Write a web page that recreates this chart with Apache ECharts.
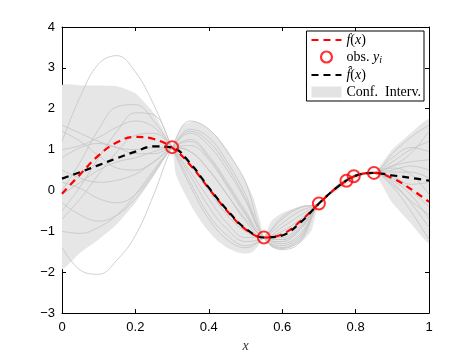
<!DOCTYPE html>
<html><head><meta charset="utf-8">
<script src="https://cdn.jsdelivr.net/npm/echarts@6/dist/echarts.min.js"></script>
<style>html,body{margin:0;padding:0;background:#fff}#c{width:474px;height:358px}</style>
</head><body><div id="c"></div>
<script>
// ---- data ----
const xGrid = [0,0.05,0.1,0.15,0.2,0.25,0.3,0.35,0.4,0.45,0.5,0.55,0.6,0.65,0.7,0.75,0.8,0.85,0.9,0.95,1];
const fTrue = [-0.08,0.40,0.86,1.18,1.31,1.26,1.05,0.62,0.05,-0.50,-0.95,-1.15,-1.07,-0.75,-0.32,0.08,0.36,0.43,0.30,0.04,-0.28];
const fMean = [0.29,0.45,0.62,0.79,0.95,1.08,1.05,0.66,0.07,-0.48,-0.93,-1.15,-1.10,-0.78,-0.32,0.08,0.36,0.43,0.37,0.31,0.24];
const obsX = [0.3,0.55,0.7,0.775,0.795,0.85];
const obsY = [1.06,-1.15,-0.32,0.24,0.35,0.43];
const bandX = [0,0.05,0.1,0.15,0.2,0.25,0.28,0.3,0.31,0.33,0.36,0.39,0.42,0.45,0.48,0.5,0.52,0.54,0.55,0.57,0.6,0.65,0.68,0.7,0.75,0.8,0.85,0.9,0.95,1];
const bandUpper = [2.57,2.57,2.57,2.55,2.38,1.9,1.4,1.05,1.3,1.6,1.7,1.58,1.35,1.0,0.55,0.25,-0.15,-0.75,-1.15,-0.75,-0.55,-0.4,-0.36,-0.32,0.15,0.42,0.43,1.0,1.4,1.74];
const bandLower = [-1.92,-1.52,-1.2,-0.82,-0.3,0.35,0.8,1.05,0.4,0.0,-0.5,-0.9,-1.2,-1.4,-1.52,-1.55,-1.5,-1.3,-1.15,-1.38,-1.44,-1.28,-0.98,-0.32,0.0,0.3,0.43,-0.3,-0.8,-1.28];
const sampleA = [1.2,2.3,3.1,3.3,2.9,2.1,1.05,0.1,-0.7,-1.2,-1.4,-1.15,-0.65,-0.4,-0.32,0.12,0.38,0.43,0.55,0.4,-0.1];
const sampleB = [0.0,0.7,1.5,2.05,2.1,1.7,1.05,0.35,-0.4,-0.95,-1.25,-1.15,-0.8,-0.5,-0.32,0.1,0.37,0.43,0.9,1.3,1.6];
const sampleC = [-0.5,0.1,0.8,1.45,1.9,1.85,1.05,0.2,-0.6,-1.1,-1.35,-1.15,-0.7,-0.42,-0.32,0.11,0.37,0.43,0.2,-0.3,-0.9];
const sampleD = [1.6,1.4,1.2,1.05,1.0,1.05,1.05,0.95,0.5,-0.1,-0.7,-1.15,-1.3,-1.05,-0.32,0.06,0.35,0.43,0.7,1.0,1.2];
const sampleE = [-1.4,-1.95,-2.05,-1.7,-1.1,-0.1,1.05,1.7,1.5,0.95,0.2,-1.15,-1.45,-1.25,-0.32,0.05,0.34,0.43,0.3,0.0,-0.4];
const sampleF = [-1.0,-1.05,-0.9,-0.6,-0.1,0.5,1.05,1.45,1.2,0.6,-0.2,-1.15,-1.4,-1.15,-0.32,0.06,0.35,0.43,0.6,0.7,0.75];
const sampleG = [-0.3,-0.6,-0.75,-0.6,-0.2,0.4,1.05,1.5,1.3,0.7,-0.1,-1.15,-1.42,-1.2,-0.32,0.05,0.34,0.43,0.1,-0.5,-1.2];
const sampleH = [0.5,0.3,0.2,0.25,0.4,0.7,1.05,1.25,0.85,0.2,-0.5,-1.15,-1.25,-0.95,-0.32,0.07,0.36,0.43,0.8,1.05,0.95];
const sampleI = [1.0,1.1,1.3,1.55,1.7,1.55,1.05,0.45,-0.2,-0.8,-1.15,-1.15,-0.9,-0.6,-0.32,0.09,0.36,0.43,0.45,0.45,0.3];
const sampleJ = [0.8,1.05,1.15,1.05,0.9,0.9,1.05,1.1,0.75,0.1,-0.6,-1.15,-1.2,-0.9,-0.32,0.08,0.36,0.43,0.35,0.15,0.2];
const sampleK = [-0.1,0.2,0.5,0.7,0.8,0.95,1.05,0.95,0.5,-0.1,-0.75,-1.15,-1.15,-0.85,-0.32,0.08,0.36,0.43,0.6,0.9,1.45];
const sampleL = [0.2,0.05,-0.2,-0.3,-0.1,0.45,1.05,1.4,1.1,0.5,-0.25,-1.15,-1.35,-1.1,-0.32,0.06,0.35,0.43,0.25,-0.1,-0.7];
const sampleM = [1.45,1.2,0.85,0.55,0.5,0.7,1.05,1.2,0.8,0.15,-0.55,-1.15,-1.2,-0.92,-0.32,0.07,0.36,0.43,0.5,0.6,0.5];
const sampleN = [-0.7,-0.2,0.4,0.95,1.35,1.4,1.05,0.6,0.0,-0.6,-1.0,-1.15,-1.0,-0.7,-0.32,0.09,0.36,0.43,0.15,-0.25,-0.6];
const samples = [sampleA,sampleB,sampleC,sampleD,sampleE,sampleF,sampleG,sampleH,sampleI,sampleJ,sampleK,sampleL,sampleM,sampleN];
const xTicks = {min:0, max:1, interval:0.2};
const yTicks = {min:-3, max:4, interval:1};

// ---- chart ----
const pairs = (xs, ys) => xs.map((x,i)=>[x, ys[i]]);
const chart = echarts.init(document.getElementById('c'), null, {renderer:'canvas'});
const axisCol = '#000';
const series = [];
series.push({name:'Conf. Interv.', type:'custom', clip:true, z:1, silent:true,
  data:bandX.map((x,i)=>[x, bandLower[i], bandUpper[i]]),
  encode:{x:0, y:[1,2]},
  itemStyle:{color:'#e3e3e3'},
  renderItem:(params, api)=>{
    if (params.dataIndex !== 0) return null;
    const pts = [];
    for (let i=0;i<bandX.length;i++) pts.push(api.coord([bandX[i], bandUpper[i]]));
    for (let i=bandX.length-1;i>=0;i--) pts.push(api.coord([bandX[i], bandLower[i]]));
    return {type:'polygon', shape:{points:pts, smooth:0.15}, style:{fill:'#e6e6e6', stroke:null}};
  }
});
samples.forEach((s,k)=>{
  series.push({name:'sample'+k, type:'line', data:pairs(xGrid, s), symbol:'none', smooth:0.4,
    lineStyle:{color:'#c4c4c4', width:0.8}, z:2, silent:true});
});
series.push({name:'f(x)', type:'line', data:pairs(xGrid, fTrue), symbol:'none', smooth:0.4,
  lineStyle:{color:'#ff0000', width:2.2, type:[7,5]}, itemStyle:{color:'#ff0000'}, z:3});
series.push({name:'fhat(x)', type:'line', data:pairs(xGrid, fMean), symbol:'none', smooth:0.4,
  lineStyle:{color:'#000', width:2.2, type:[7,5]}, itemStyle:{color:'#000'}, z:4});
series.push({name:'obs. y_i', type:'scatter', data:pairs(obsX, obsY), symbol:'circle', symbolSize:12,
  itemStyle:{color:'rgba(0,0,0,0)', borderColor:'#ff0000', borderWidth:2}, z:5});

const labelFont = {fontFamily:'Liberation Sans', fontSize:13, color:'#000'};
const legendMap = {
  'f(x)':'{it|f}{rm|(}{it|x}{rm|)}',
  'obs. y_i':'{rm|obs. }{it|y}{sub|i}',
  'fhat(x)':'{it|f\u0302}{rm|(}{it|x}{rm|)}',
  'Conf. Interv.':'{rm|Conf.  Interv.}'
};
chart.setOption({
  animation:false,
  backgroundColor:'#fff',
  grid:{left:62, right:45, top:27, bottom:41, show:false},
  legend:{
    data:[
      {name:'f(x)', itemStyle:{opacity:0}},
      {name:'obs. y_i', icon:'circle', itemStyle:{color:'rgba(0,0,0,0)', borderColor:'#ff0000', borderWidth:2.2}},
      {name:'fhat(x)', itemStyle:{opacity:0}},
      {name:'Conf. Interv.', icon:'rect', itemStyle:{color:'#e3e3e3'}}
    ],
    orient:'vertical', right:50, top:31, itemGap:3, itemWidth:30, itemHeight:11,
    padding:[2,3,2,4], borderColor:'#000', borderWidth:1, backgroundColor:'#fff', borderRadius:0,
    selectedMode:false,
    formatter:n=>legendMap[n],
    textStyle:{fontFamily:'Liberation Serif', fontSize:14, color:'#000',
      rich:{
        it:{fontFamily:'Liberation Serif', fontStyle:'italic', fontSize:14, color:'#000'},
        rm:{fontFamily:'Liberation Serif', fontSize:14, color:'#000'},
        sub:{fontFamily:'Liberation Serif', fontStyle:'italic', fontSize:10, color:'#000', padding:[6,0,0,0]}
      }}
  },
  xAxis:[
    {type:'value', position:'bottom', min:xTicks.min, max:xTicks.max, interval:xTicks.interval,
     axisLine:{onZero:false, lineStyle:{color:axisCol, width:1}}, axisTick:{inside:true, length:4, lineStyle:{color:axisCol}},
     splitLine:{show:false}, axisLabel:Object.assign({margin:8}, labelFont),
     name:'x', nameLocation:'middle', nameGap:24,
     nameTextStyle:{fontFamily:'Liberation Serif', fontStyle:'italic', fontSize:14, color:'#333'}},
    {type:'value', position:'top', min:xTicks.min, max:xTicks.max, interval:xTicks.interval,
     axisLine:{onZero:false, lineStyle:{color:axisCol, width:1}}, axisTick:{inside:true, length:4, lineStyle:{color:axisCol}},
     splitLine:{show:false}, axisLabel:{show:false}}
  ],
  yAxis:[
    {type:'value', position:'left', min:yTicks.min, max:yTicks.max, interval:yTicks.interval,
     axisLine:{show:true, onZero:false, lineStyle:{color:axisCol, width:1}}, axisTick:{show:true, inside:true, length:4, lineStyle:{color:axisCol}},
     splitLine:{show:false}, axisLabel:Object.assign({margin:7, formatter:v=>String(v).replace('-','\u2212')}, labelFont)},
    {type:'value', position:'right', min:yTicks.min, max:yTicks.max, interval:yTicks.interval,
     axisLine:{show:true, onZero:false, lineStyle:{color:axisCol, width:1}}, axisTick:{show:true, inside:true, length:4, lineStyle:{color:axisCol}},
     splitLine:{show:false}, axisLabel:{show:false}}
  ],
  series:series
});
</script></body></html>
